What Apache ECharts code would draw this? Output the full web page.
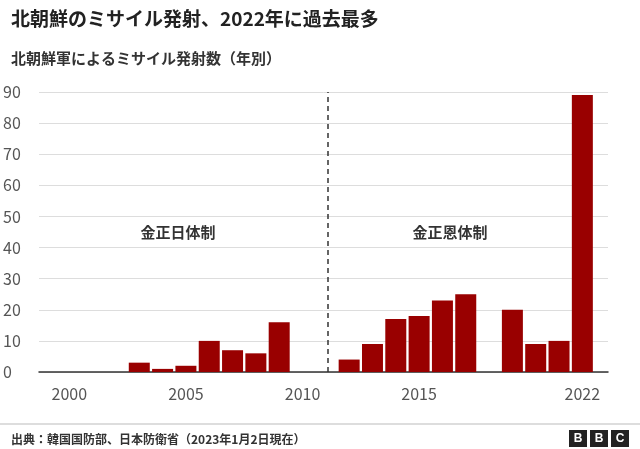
<!DOCTYPE html>
<html><head><meta charset="utf-8">
<script src="https://cdn.jsdelivr.net/npm/echarts@6/dist/echarts.min.js"></script>
<style>html,body{margin:0;padding:0;background:#fff}#c{width:640px;height:449px}</style>
</head><body><div id="c"></div>
<script>
const years=[2000,2001,2002,2003,2004,2005,2006,2007,2008,2009,2010,2011,2012,2013,2014,2015,2016,2017,2018,2019,2020,2021,2022];
const launches=[0,0,0,3,1,2,10,7,6,16,0,0,4,9,17,18,23,25,0,20,9,10,89];
const xTicks=[2000,2005,2010,2015,2022];
const font='"Noto Sans CJK JP","Noto Sans",sans-serif';
const chart=echarts.init(document.getElementById('c'));
chart.setOption({
  animation:false,
  textStyle:{fontFamily:font},
  title:[
    {text:'北朝鮮のミサイル発射、2022年に過去最多',left:6,top:4,textStyle:{fontSize:19,fontWeight:'bold',color:'#222',fontFamily:font}},
    {text:'北朝鮮軍によるミサイル発射数（年別）',left:6,top:46,textStyle:{fontSize:15,fontWeight:'bold',color:'#333',fontFamily:font}},
    {text:'出典：韓国国防部、日本防衛省（2023年1月2日現在）',left:6,top:428,textStyle:{fontSize:12,fontWeight:'bold',color:'#333',fontFamily:font}}
  ],
  graphic:[
    {type:'line',shape:{x1:0,y1:424,x2:640,y2:424},style:{stroke:'#bbb',lineWidth:1}},
    {type:'rect',shape:{x:569,y:430,width:18,height:17},style:{fill:'#222'}},
    {type:'rect',shape:{x:590,y:430,width:18,height:17},style:{fill:'#222'}},
    {type:'rect',shape:{x:611,y:430,width:18,height:17},style:{fill:'#222'}},
    {type:'text',style:{x:578,y:438.5,text:'B',fill:'#fff',font:'bold 12px Arial',align:'center',verticalAlign:'middle'}},
    {type:'text',style:{x:599,y:438.5,text:'B',fill:'#fff',font:'bold 12px Arial',align:'center',verticalAlign:'middle'}},
    {type:'text',style:{x:620,y:438.5,text:'C',fill:'#fff',font:'bold 12px Arial',align:'center',verticalAlign:'middle'}},
    {type:'text',style:{x:178,y:232,text:'金正日体制',fill:'#333',font:'bold 15px '+font,align:'center',verticalAlign:'middle'}},
    {type:'text',style:{x:450,y:232,text:'金正恩体制',fill:'#333',font:'bold 15px '+font,align:'center',verticalAlign:'middle'}}
  ],
  grid:{left:38,right:32,top:92,bottom:77},
  xAxis:{type:'value',min:1998.7,max:2023.1,
    axisLine:{show:true,lineStyle:{color:'#333',width:1.5}},
    axisTick:{show:false},splitLine:{show:false},
    axisLabel:{customValues:xTicks,fontSize:16,color:'#555',margin:14,formatter:v=>String(Math.round(v))}},
  yAxis:{type:'value',min:0,max:90,interval:10,
    axisLine:{show:false},axisTick:{show:false},
    axisLabel:{fontSize:16,color:'#555',align:'left',margin:36},
    splitLine:{lineStyle:{color:'#ddd'}}},
  series:[{type:'bar',data:years.map((y,i)=>[y,launches[i]]),barWidth:21,
    itemStyle:{color:'#990000'},
    markLine:{symbol:'none',silent:true,label:{show:false},
      lineStyle:{type:[5,4],color:'#333',width:1.5},
      data:[[{coord:[2011.1,0]},{coord:[2011.1,90]}]]}}]
});
</script></body></html>
